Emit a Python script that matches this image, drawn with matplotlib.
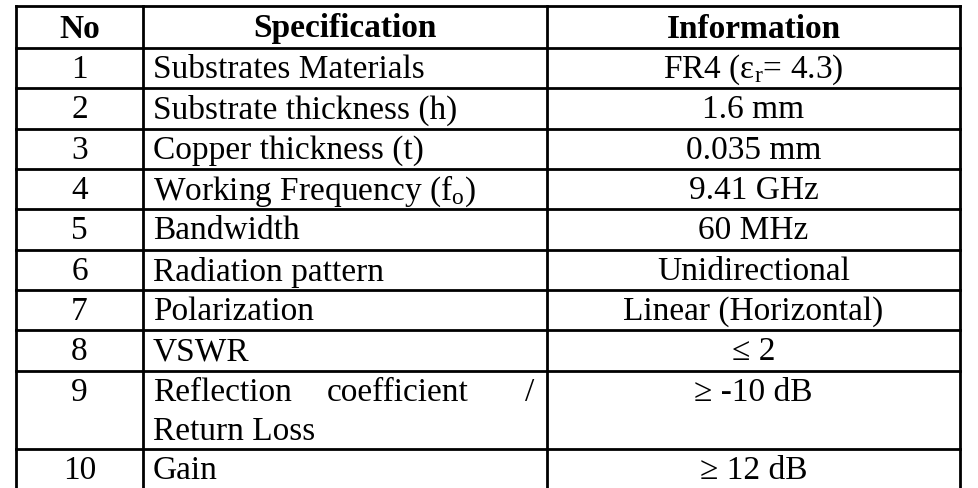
import matplotlib
matplotlib.use("Agg")
import matplotlib.pyplot as plt

plt.rcParams['font.family'] = ['Liberation Serif', 'DejaVu Serif']
plt.rcParams['mathtext.fontset'] = 'custom'
plt.rcParams['mathtext.rm'] = 'Liberation Serif'
plt.rcParams['mathtext.it'] = 'Liberation Serif:italic'

headers = ["No", "Specification", "Information"]
numbers = ["1", "2", "3", "4", "5", "6", "7", "8", "9", "10"]
specs = ["Substrates Materials", "Substrate thickness (h)", "Copper thickness (t)",
         "Working Frequency (f$_\\mathrm{o}$)", "Bandwidth", "Radiation pattern",
         "Polarization", "VSWR", None, "Gain"]
infos = ["FR4 (\u03b5$_\\mathrm{r}$= 4.3)", "1.6 mm", "0.035 mm", "9.41 GHz", "60 MHz",
         "Unidirectional", "Linear (Horizontal)", "\u2264 2", "\u2265 -10 dB", "\u2265 12 dB"]

W, H = 979, 489
fig = plt.figure(figsize=(W/100, H/100), dpi=100)
ax = fig.add_axes([0, 0, 1, 1])
ax.set_xlim(0, W); ax.set_ylim(H, 0); ax.axis('off')

rows = [7, 49, 89, 130, 170, 210, 251, 291, 331, 372, 450, 490]
cols = [16, 143, 547, 960]
lw = 2.0
for y in rows:
    ax.plot([cols[0], cols[-1]], [y, y], color='black', lw=lw, solid_capstyle='projecting')
for x in cols:
    ax.plot([x, x], [rows[0], rows[-1]], color='black', lw=lw, solid_capstyle='projecting')

fs = 24
for j in range(3):
    ax.text((cols[j]+cols[j+1])/2, (rows[0]+rows[1])/2 + 1, headers[j],
            ha='center', va='center', fontsize=fs, fontweight='bold')

tx = 153
for i in range(10):
    top = rows[i+1]
    yc = top + 21
    ax.text((cols[0]+cols[1])/2, yc, numbers[i], ha='center', va='center', fontsize=fs)
    if specs[i] is None:
        ax.text(tx, yc, "Reflection", ha='left', va='center', fontsize=fs)
        ax.text(398, yc, "coefficient", ha='center', va='center', fontsize=fs)
        ax.text(534, yc, "/", ha='right', va='center', fontsize=fs)
        ax.text(tx, yc + 39, "Return Loss", ha='left', va='center', fontsize=fs)
    else:
        ax.text(tx, yc, specs[i], ha='left', va='center', fontsize=fs)
    ax.text((cols[2]+cols[3])/2, yc, infos[i], ha='center', va='center', fontsize=fs)

fig.savefig("out.png", dpi=100)
